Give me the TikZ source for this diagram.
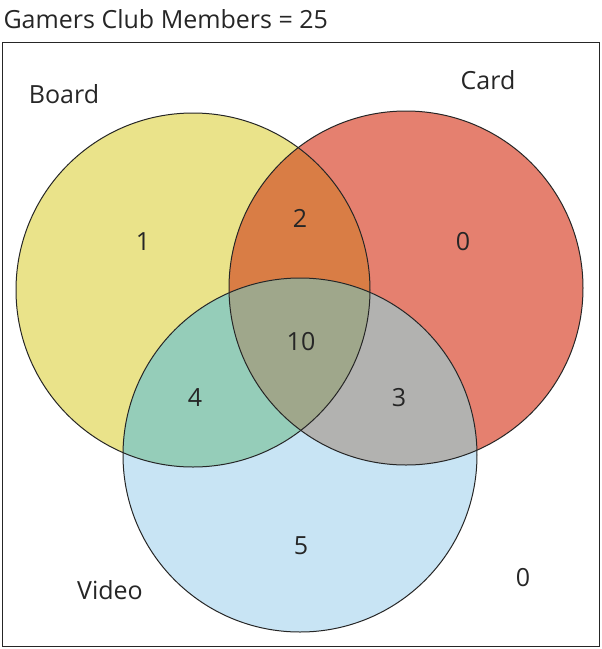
\documentclass[tikz,border=0pt]{standalone}
\usepackage{fontspec}
\setmainfont{Open Sans}
\begin{document}
\begin{tikzpicture}[x=1pt,y=-1pt,
  lbl/.style={font=\fontsize{25}{28}\selectfont, text=black!85},
  circ/.style={draw=black!85, line width=1pt}]
\useasboundingbox (0,0) rectangle (602,649);
\definecolor{cb}{HTML}{EAE38A}
\definecolor{cc}{HTML}{E5806F}
\definecolor{cv}{HTML}{C8E4F4}
\definecolor{cbc}{HTML}{D97D45}
\definecolor{cbv}{HTML}{95CDB9}
\definecolor{ccv}{HTML}{B2B2B0}
\definecolor{call}{HTML}{9FA78B}
\node[draw=black!85, line width=1pt, minimum width=597pt, minimum height=604pt, inner sep=0pt] (frame) at (301,344.5) {};
\node[lbl, anchor=west] (title) at (0,19) {Gamers Club Members = 25};
\coordinate (B) at (193,290);
\coordinate (C) at (406,288);
\coordinate (V) at (300,455);
\def\R{177}
\fill[cb] (B) circle (\R);
\fill[cc] (C) circle (\R);
\fill[cv] (V) circle (\R);
\begin{scope}\clip (B) circle (\R); \fill[cbc] (C) circle (\R); \end{scope}
\begin{scope}\clip (B) circle (\R); \fill[cbv] (V) circle (\R); \end{scope}
\begin{scope}\clip (C) circle (\R); \fill[ccv] (V) circle (\R); \end{scope}
\begin{scope}\clip (B) circle (\R); \clip (C) circle (\R); \fill[call] (V) circle (\R); \end{scope}
\draw[circ] (B) circle (\R);
\draw[circ] (C) circle (\R);
\draw[circ] (V) circle (\R);
\node[lbl] (lb) at (64,94) {Board};
\node[lbl] (lc) at (488,80) {Card};
\node[lbl] (lv) at (110,590) {Video};
\node[lbl] (n1) at (143,242) {1};
\node[lbl] (n2) at (300,218) {2};
\node[lbl] (n0) at (463,242) {0};
\node[lbl] (n10) at (301,342) {10};
\node[lbl] (n4) at (195,398) {4};
\node[lbl] (n3) at (399,398) {3};
\node[lbl] (n5) at (301,546) {5};
\node[lbl] (n0b) at (523,578) {0};
\end{tikzpicture}
\end{document}
